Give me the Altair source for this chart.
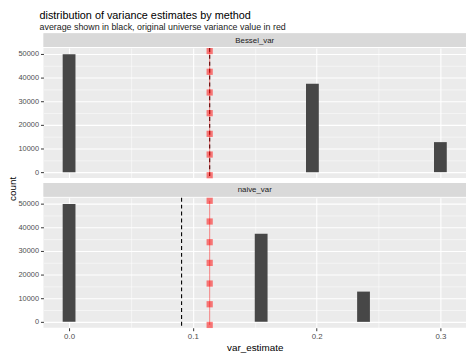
import altair as alt
import pandas as pd

# ---- data ----
methods = ["Bessel_var", "naive_var"]
bessel_centers = [0.0, 0.1966, 0.3]
bessel_counts = [49900, 37400, 12700]
naive_centers = [0.0, 0.1552, 0.2379]
naive_counts = [49900, 37300, 12800]
bin_width = 0.01034
mean_estimates = [0.1136, 0.0909]
universe_variance = 0.1136
marker_counts = [-1300, 7450, 16200, 24950, 33700, 42450, 51200]
x_ticks = [0.0, 0.05, 0.1, 0.15, 0.2, 0.25, 0.3]
y_ticks = [0, 5000, 10000, 15000, 20000, 25000, 30000, 35000, 40000, 45000, 50000]

FONT = "Liberation Sans"
W = 429
PH = 132
SH = 14

bars = pd.DataFrame({
    "method": [methods[0]] * 3 + [methods[1]] * 3,
    "center": bessel_centers + naive_centers,
    "count": bessel_counts + naive_counts,
})
bars["x0"] = bars["center"] - bin_width / 2
bars["x1"] = bars["center"] + bin_width / 2

means = pd.DataFrame({"method": methods, "mean": mean_estimates})
markers = pd.DataFrame({
    "method": [m for m in methods for _ in marker_counts],
    "var": [universe_variance] * (len(marker_counts) * 2),
    "count": marker_counts * 2,
})

xscale = alt.Scale(domain=[-0.0207, 0.3207], nice=False, zero=False)
yscale = alt.Scale(domain=[-2500, 52500], nice=False, zero=False)

x_major = "round(datum.value*100) % 10 === 0"
y_major = "datum.value % 10000 === 0"


def x_axis(show):
    kw = dict(
        values=x_ticks, grid=True, domain=False, gridColor="white",
        gridWidth={"condition": {"test": x_major, "value": 1.1}, "value": 0.5},
        labelOverlap=False,
    )
    if show:
        kw.update(
            labelExpr=f"{x_major} ? format(datum.value, '.1f') : ''",
            tickOpacity={"condition": {"test": x_major, "value": 1}, "value": 0},
            tickSize=3, tickColor="#333333", labelColor="#4D4D4D", labelFontSize=8,
            labelFont=FONT, labelPadding=2, title="var_estimate", titleFont=FONT,
            titleFontSize=10, titleFontWeight="normal", titleColor="black", titlePadding=2,
        )
    else:
        kw.update(labels=False, ticks=False, title=None)
    return alt.Axis(**kw)


def y_axis():
    return alt.Axis(
        values=y_ticks, grid=True, domain=False, gridColor="white",
        gridWidth={"condition": {"test": y_major, "value": 1.1}, "value": 0.5},
        labelExpr=f"{y_major} ? format(datum.value, 'd') : ''",
        tickOpacity={"condition": {"test": y_major, "value": 1}, "value": 0},
        tickSize=3, tickColor="#333333", labelColor="#4D4D4D", labelFontSize=7.5,
        labelFont=FONT, labelPadding=2, labelOverlap=False, title=None,
    )


def panel(method, show_x):
    xa = x_axis(show_x)
    ya = y_axis()
    b = alt.Chart(bars).transform_filter(alt.datum.method == method).mark_rect(
        color="#474747"
    ).encode(
        x=alt.X("x0:Q", scale=xscale, axis=xa),
        x2="x1:Q",
        y=alt.Y("count:Q", scale=yscale, axis=ya),
        y2=alt.datum(0),
    )
    mk = alt.Chart(markers).transform_filter(alt.datum.method == method)
    line = mk.mark_line(color="red", opacity=0.45, strokeWidth=1).encode(
        x=alt.X("var:Q", scale=xscale, axis=xa), y=alt.Y("count:Q", scale=yscale, axis=ya)
    )
    pts = mk.mark_square(color="red", opacity=0.5, size=40).encode(
        x=alt.X("var:Q", scale=xscale, axis=xa), y=alt.Y("count:Q", scale=yscale, axis=ya)
    )
    mean = alt.Chart(means).transform_filter(alt.datum.method == method).mark_rule(
        color="black", strokeDash=[4, 3], strokeWidth=1.1
    ).encode(x=alt.X("mean:Q", scale=xscale, axis=xa))
    return alt.layer(b, mean, line, pts).properties(width=W, height=PH)


def strip(method):
    d = pd.DataFrame({"method": [method]})
    base = alt.Chart(d).properties(width=W, height=SH)
    rect = base.mark_rect(color="#D9D9D9").encode(
        x=alt.value(0), x2=alt.value(W), y=alt.value(0), y2=alt.value(SH)
    )
    txt = base.mark_text(fontSize=8, font=FONT, color="#1A1A1A").encode(
        x=alt.value(W / 2), y=alt.value(SH / 2 + 0.5), text="method:N"
    )
    return alt.layer(rect, txt)


top = alt.vconcat(strip(methods[0]), panel(methods[0], False), spacing=0)
bottom = alt.vconcat(strip(methods[1]), panel(methods[1], True), spacing=0)
panels = alt.vconcat(top, bottom, spacing=4)

ylabel = alt.Chart(pd.DataFrame({"t": ["count"]})).mark_text(
    angle=270, font=FONT, fontSize=10, color="black", baseline="middle"
).encode(
    x=alt.value(3), y=alt.value(158), text="t:N"
).properties(width=2, height=300, view=alt.ViewConfig(fill=None, stroke=None))

chart = alt.hconcat(ylabel, panels, spacing=0).properties(
    title=alt.TitleParams(
        text="distribution of variance estimates by method",
        subtitle="average shown in black, original universe variance value in red",
        anchor="start", font=FONT, fontSize=11, fontWeight="normal", color="black",
        subtitleFont=FONT, subtitleFontSize=9, subtitleColor="#1A1A1A",
        subtitlePadding=2, offset=1, dx=32,
    ),
    padding=0,
).configure_view(fill="#EBEBEB", stroke=None)

chart.save("out.html", embed_options={"renderer": "svg", "actions": False})
